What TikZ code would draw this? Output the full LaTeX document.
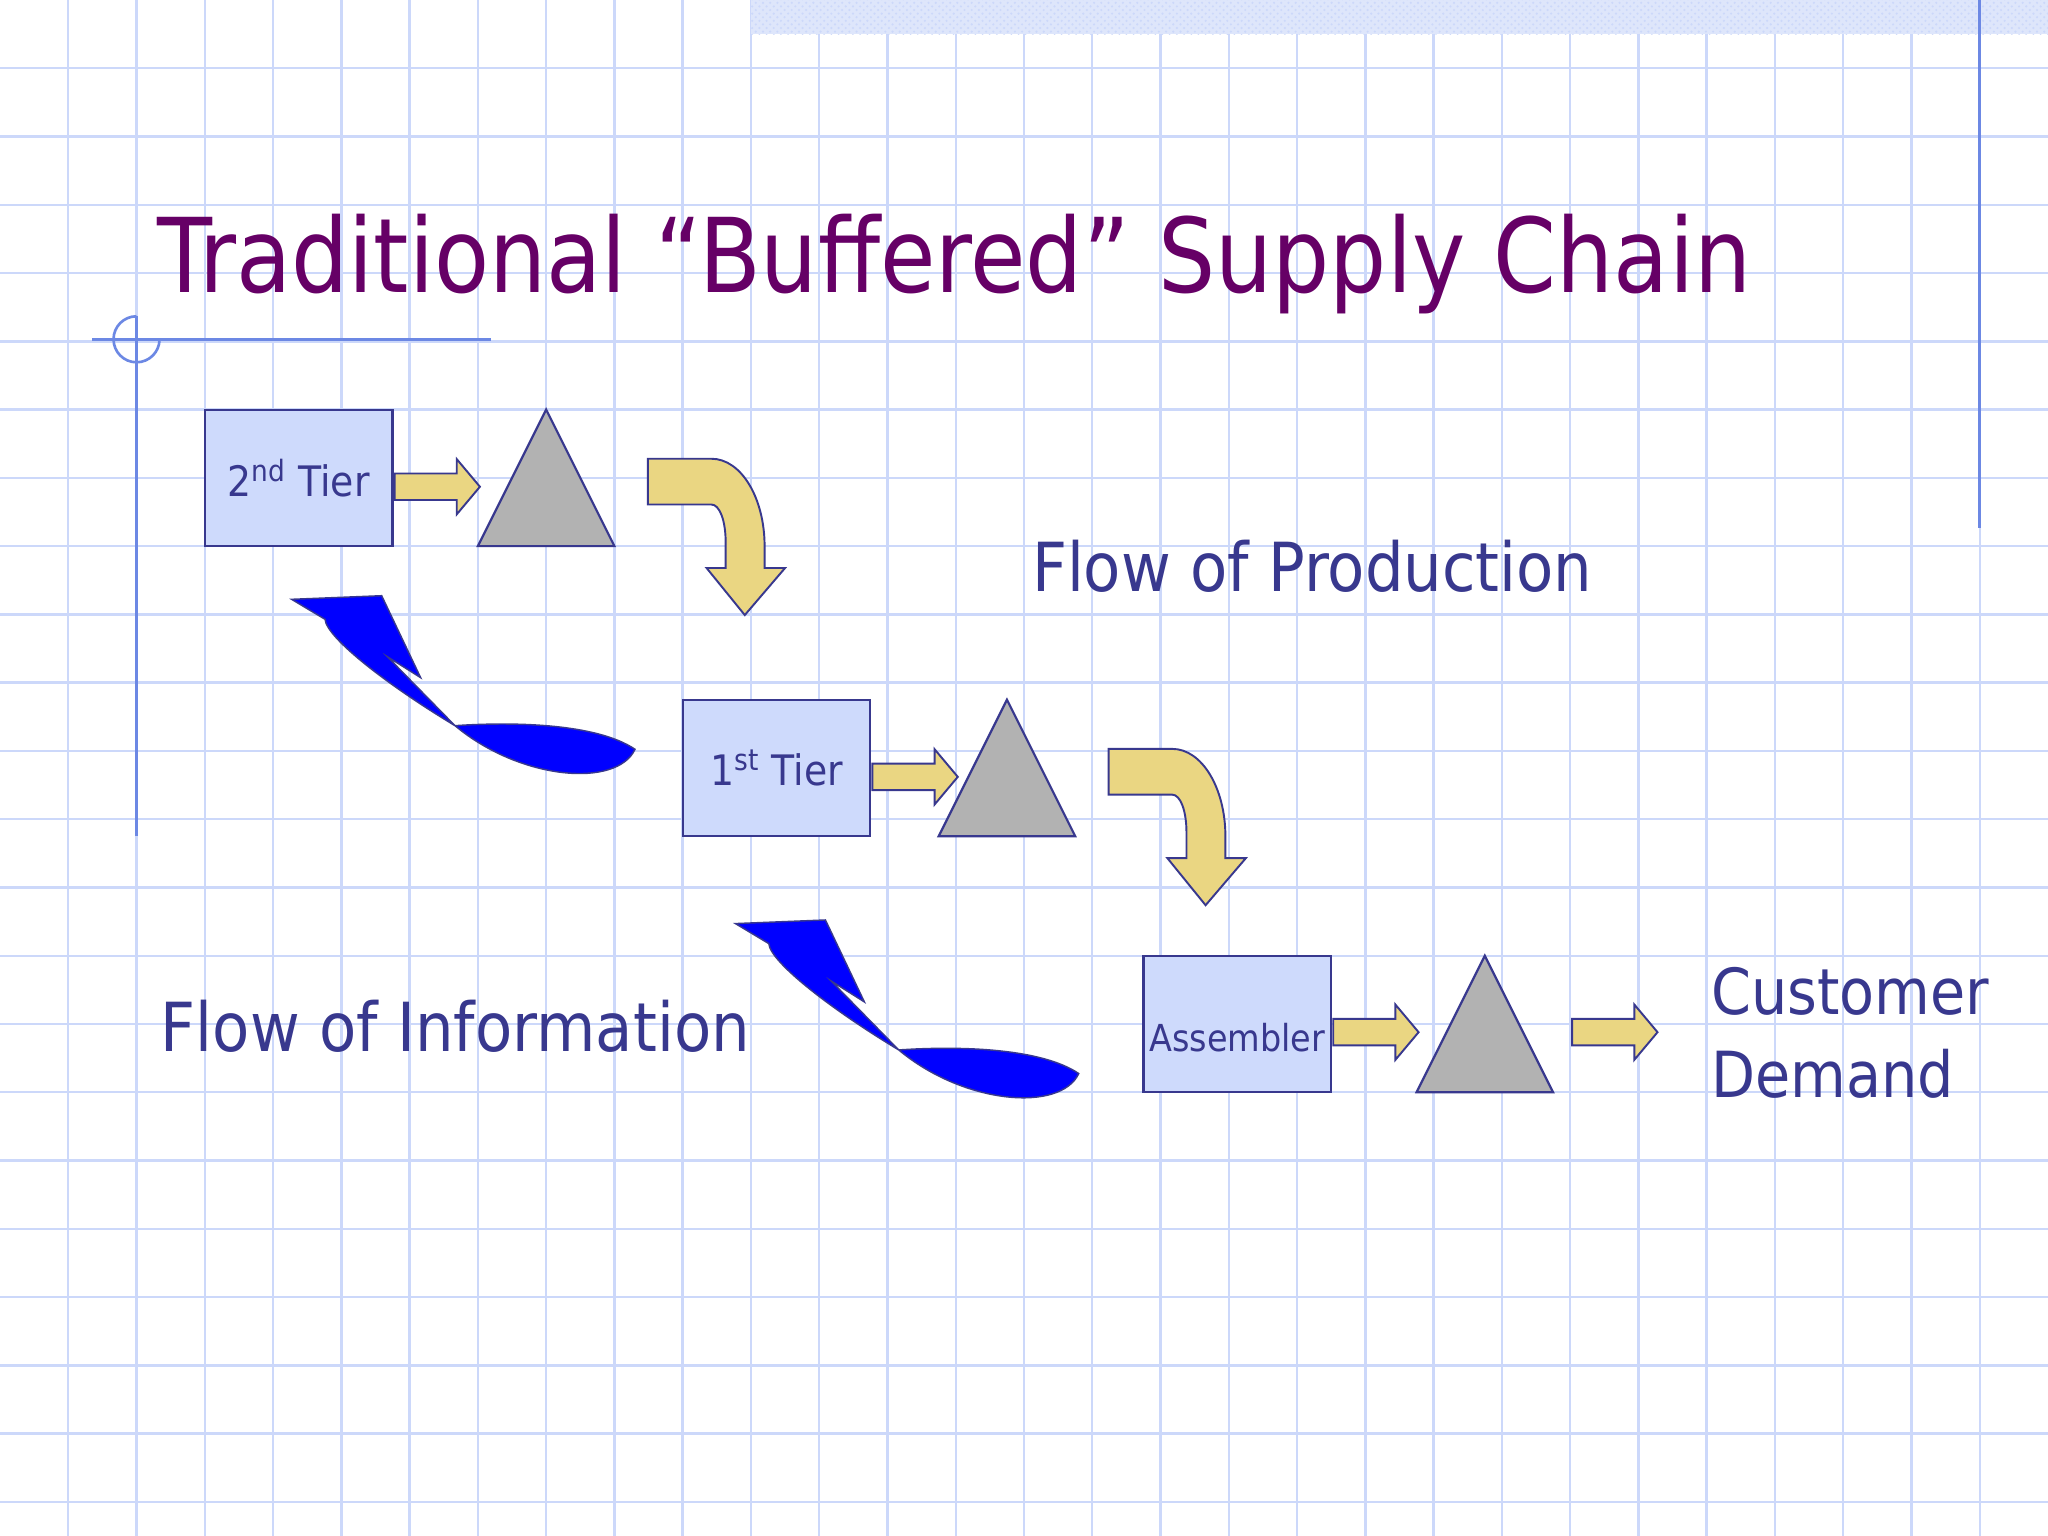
\documentclass[tikz,border=0pt]{standalone}
\usepackage{fontspec}
\setmainfont{DejaVu Sans}[FakeStretch=0.9]
\newfontfamily\titlefont{DejaVu Sans}[FakeStretch=0.873]
\usetikzlibrary{shapes.arrows,positioning,patterns}
\definecolor{gridblue}{RGB}{204,216,250}
\definecolor{rulerblue}{RGB}{108,136,228}
\definecolor{bandblue}{RGB}{222,230,251}
\definecolor{titlepurple}{RGB}{102,0,102}
\definecolor{navy}{RGB}{56,56,142}
\definecolor{tierfill}{RGB}{206,218,252}
\definecolor{flowyellow}{RGB}{234,214,130}
\definecolor{stockgray}{RGB}{178,178,178}
\begin{document}
\begin{tikzpicture}[x=1cm,y=-1cm,
  gridline/.style={gridblue,line width=1pt},
  ruler/.style={rulerblue,line width=1.1pt},
  tier/.style={draw=navy,fill=tierfill,line width=0.9pt,minimum width=2.75cm,
    minimum height=2cm,inner sep=0pt,text=navy},
  stock/.style={draw=navy,fill=stockgray,line width=0.9pt},
  flow/.style={single arrow,draw=navy,fill=flowyellow,line width=0.8pt,
    minimum height=1.25cm,minimum width=0.78cm,inner sep=0.18cm,
    single arrow head extend=0.21cm,single arrow tip angle=100,anchor=tail},
  bentarrow/.style={draw=navy,fill=flowyellow,line width=0.8pt},
  info/.style={draw=navy,fill=blue,line width=0.6pt},
  flowtext/.style={text=navy,inner sep=0pt,anchor=base west}]
  \useasboundingbox (0,0) rectangle (30,22.5);
  \fill[white] (0,0) rectangle (30,22.5);
  \foreach \i in {1,...,29}
    \draw[gridline] (\i,0) -- (\i,22.5);
  \foreach \j in {1,...,22}
    \draw[gridline] (0,\j) -- (30,\j);
  \fill[bandblue] (11,0) rectangle (30,0.5);
  \fill[pattern=crosshatch dots,pattern color=gridblue] (11,0) rectangle (30,0.5);
  \draw[ruler] (29,0) -- (29,7.74);
  \draw[ruler] (1.35,4.97) -- (7.19,4.97);
  \draw[ruler] (2,4.63) -- (2,12.25);
  \draw[ruler] (2.337,4.97) arc[start angle=0,end angle=270,radius=0.337];

  \node[anchor=base west,inner sep=0pt,text=titlepurple,
    font=\titlefont\fontsize{43}{50}\selectfont] (title) at (2.3,4.29)
    {Traditional “Buffered” Supply Chain};

  \node[tier,font=\fontsize{17.5}{20}\selectfont] (t2) at (4.375,7) {2\textsuperscript{nd} Tier};
  \node[tier,font=\fontsize{17.5}{20}\selectfont] (t1) at (11.375,11.25) {1\textsuperscript{st} Tier};
  \node[tier,font=\fontsize{15.5}{18}\selectfont] (asm) at (18.125,15)
    {\raisebox{-11.6pt}[0pt][0pt]{Assembler}};

  \node[flow] (f2) at ([yshift=-0.13cm]t2.east) {};
  \node[flow] (f1) at ([yshift=-0.13cm]t1.east) {};
  \node[flow] (fa) at ([yshift=-0.12cm]asm.east) {};
  \node[flow] (fc) at ([xshift=3.5cm,yshift=-0.12cm]asm.east) {};

  \foreach \x/\y in {7/8,13.75/12.25,20.75/16}
    \draw[stock] (\x,\y) -- ++(2,0) -- ++(-1,-2) -- cycle;

  \foreach \dx/\dy in {0/0,6.75/4.25}
    \draw[bentarrow,shift={(\dx,\dy)}] (9.49,6.72) -- (10.42,6.72)
      .. controls (10.86,6.72) and (11.2,7.3) .. (11.2,8.0) -- (11.2,8.32)
      -- (11.5,8.32) -- (10.91,9.01) -- (10.35,8.32) -- (10.63,8.32) -- (10.63,7.95)
      .. controls (10.63,7.62) and (10.54,7.39) .. (10.42,7.39) -- (9.49,7.39) -- cycle;

  \foreach \dx/\dy in {0/0,6.5/4.75}
    \draw[info,shift={(\dx,\dy)}] (4.272,8.779) -- (5.591,8.726) -- (6.162,9.927)
      -- (5.674,9.619) -- (6.665,10.630)
      .. controls (7.519,10.571) and (8.740,10.596) .. (9.302,10.976)
      .. controls (9.033,11.548) and (7.617,11.426) .. (6.665,10.630)
      .. controls (5.713,10.059) and (4.785,9.351) .. (4.761,9.072) -- cycle;

  \node[flowtext,font=\fontsize{28.2}{34}\selectfont] (prod) at (15.11,8.66) {Flow of Production};
  \node[flowtext,font=\fontsize{28.2}{34}\selectfont] (inf) at (2.35,15.4) {Flow of Information};
  \node[flowtext,font=\fontsize{26.5}{34.2}\selectfont,align=left] (cust) at (25.06,16.07) {Customer\\Demand};
\end{tikzpicture}
\end{document}
